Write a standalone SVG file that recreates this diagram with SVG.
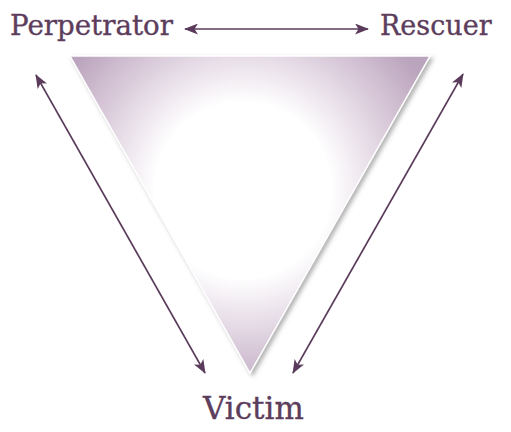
<svg xmlns="http://www.w3.org/2000/svg" width="511" height="432" viewBox="0 0 511 432">
<style>
.lbl{font-family:"DejaVu Serif","Liberation Serif",serif;fill:#5c3d5c;stroke:#5c3d5c;stroke-width:0.35}
.con{stroke:#5a3b5b;stroke-width:1.6;fill:none;marker-start:url(#ah);marker-end:url(#ah)}
</style>
<defs>
<radialGradient id="g" gradientUnits="userSpaceOnUse" cx="243" cy="190" r="210">
<stop offset="0" stop-color="#ffffff"/>
<stop offset="0.42" stop-color="#ffffff"/>
<stop offset="0.75" stop-color="#d9cada"/>
<stop offset="1" stop-color="#bba4bd"/>
</radialGradient>
<filter id="sh" x="-10%" y="-10%" width="125%" height="125%">
<feDropShadow dx="2.5" dy="2.5" stdDeviation="2" flood-color="#555" flood-opacity="0.45"/>
</filter>
<marker id="ah" viewBox="0 0 14 11" refX="13" refY="5.5" markerWidth="14" markerHeight="11" markerUnits="userSpaceOnUse" orient="auto-start-reverse">
<path d="M0,0 L14,5.5 L0,11 L3.5,5.5 z" fill="#5a3b5b"/>
</marker>
</defs>
<rect width="511" height="432" fill="#ffffff"/>
<g id="triangle">
<polygon points="70,56 430,56 250,373" fill="url(#g)" stroke="#ffffff" stroke-width="1.5" filter="url(#sh)"/>
</g>
<g id="connectors">
<line class="con" x1="185" y1="29" x2="368" y2="29"/>
<line class="con" x1="36" y1="75" x2="205" y2="373"/>
<line class="con" x1="463" y1="74" x2="293" y2="373"/>
</g>
<g id="perpetrator"><text class="lbl" x="10" y="35" font-size="27.5" textLength="163" lengthAdjust="spacingAndGlyphs">Perpetrator</text></g>
<g id="rescuer"><text class="lbl" x="380" y="35" font-size="27">Rescuer</text></g>
<g id="victim"><text class="lbl" x="203" y="419" font-size="31">Victim</text></g>
</svg>
